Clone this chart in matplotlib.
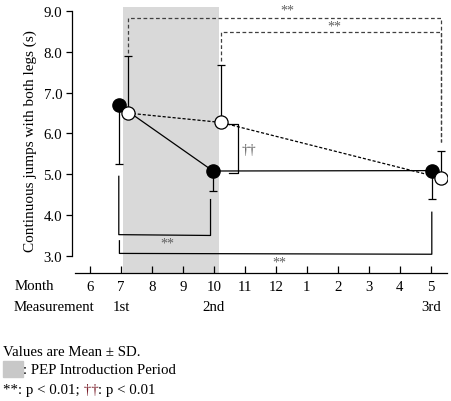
import numpy as np
import matplotlib.pyplot as plt
from matplotlib.patches import Rectangle
from matplotlib.transforms import blended_transform_factory

plt.rcParams['font.family'] = ['Liberation Serif', 'DejaVu Serif']
plt.rcParams['font.size'] = 10.7

# data
months = ['6', '7', '8', '9', '10', '11', '12', '1', '2', '3', '4', '5']
meas_idx = [1, 4, 11]
meas_labels = ['1st', '2nd', '3rd']
filled_mean = [6.70, 5.08, 5.09]
filled_sd = [1.45, 0.49, 0.70]
open_mean = [6.50, 6.27, 4.91]
open_sd = [1.39, 1.41, 0.67]

xm = np.array(meas_idx, dtype=float)
xf = xm + np.array([-0.07, -0.03, 0.05])
xo = xm + np.array([0.22, 0.23, 0.33])

fig = plt.figure(figsize=(4.51, 4.02), dpi=100)
ax = fig.add_axes([72/451, 1-274/402, 375/451, 266/402])
ax.set_xlim(-0.58, 11.52)
ax.set_ylim(2.58, 9.1)

# PEP period
ax.axvspan(1.05, 4.16, color='#d9d9d9', zorder=0, lw=0)

# series
ax.plot(xf, filled_mean, '-', color='black', lw=0.9, zorder=3)
ax.plot(xo, open_mean, '--', color='black', lw=0.9, dashes=(2.5, 1.5), zorder=3)
ax.errorbar(xf, filled_mean, yerr=[filled_sd, np.zeros(3)], fmt='none',
            ecolor='black', elinewidth=0.9, capsize=3, capthick=0.9, zorder=2)
ax.errorbar(xo, open_mean, yerr=[np.zeros(3), open_sd], fmt='none',
            ecolor='black', elinewidth=0.9, capsize=3, capthick=0.9, zorder=2)
ax.plot(xf, filled_mean, 'o', ms=9.5, mfc='black', mec='black', zorder=4)
ax.plot(xo, open_mean, 'o', ms=9.5, mfc='white', mec='black', mew=0.9, zorder=5)

star_c = '#606060'
dash = (3, 2)
# dashed brackets (open circles)
ax.plot([xo[0], xo[0], xo[2], xo[2]], [7.98, 8.83, 8.83, 5.8], '--',
        color='#404040', lw=0.9, dashes=dash, zorder=3)
ax.text((xo[0] + xo[2]) / 2 + 0.1, 9.03, '**', color=star_c, ha='center',
        va='center', fontsize=10, clip_on=False)
ax.plot([xo[1], xo[1], xo[2], xo[2]], [7.78, 8.48, 8.48, 5.8], '--',
        color='#404040', lw=0.9, dashes=dash, zorder=3)
ax.text(7.9, 8.63, '**', color=star_c, ha='center', va='center', fontsize=10)

# group comparison at 2nd
ax.plot([xo[1], xo[1] + 0.55, xo[1] + 0.55, xo[1] + 0.25],
        [6.23, 6.23, 5.03, 5.03], '-', color='black', lw=0.9, zorder=3)
ax.text(xo[1] + 0.9, 5.6, '\u2020\u2020', color=star_c, ha='center',
        va='center', fontsize=10.5)

# solid brackets (filled circles)
ax.plot([xf[0], xf[0], xf[1] - 0.08, xf[1] - 0.08], [4.95, 3.52, 3.5, 4.38],
        '-', color='black', lw=0.9, zorder=3)
ax.text(2.5, 3.32, '**', color=star_c, ha='center', va='center', fontsize=10)
ax.plot([xf[0] + 0.02, xf[0] + 0.02, xf[2] - 0.02, xf[2] - 0.02],
        [3.37, 3.06, 3.04, 4.07], '-', color='black', lw=0.9, zorder=3)
ax.text(6.1, 2.86, '**', color=star_c, ha='center', va='center', fontsize=10)

# axes styling
for s in ['top', 'right']:
    ax.spines[s].set_visible(False)
ax.spines['left'].set_bounds(3, 9)
ax.spines['bottom'].set_bounds(-0.48, 11.52)
ax.spines['left'].set_linewidth(0.9)
ax.spines['bottom'].set_linewidth(0.9)
ax.set_yticks(np.arange(3, 9.5, 1.0))
ax.set_yticklabels(['%.1f' % v for v in np.arange(3, 9.5, 1.0)])
ax.set_xticks(range(len(months)))
ax.set_xticklabels(months)
ax.tick_params(axis='y', direction='out', length=4, width=0.9, pad=3)
ax.tick_params(axis='x', direction='in', length=5, width=0.9, pad=5)
ax.set_ylabel('Continuous jumps with both legs (s)', labelpad=5, fontsize=11)

fig.text(15/451, 1-287/402, 'Month', va='center', ha='left')
fig.text(14/451, 1-308/402, 'Measurement', va='center', ha='left')
tr = blended_transform_factory(ax.transData, fig.transFigure)
for i, lab in zip(meas_idx, meas_labels):
    ax.text(i, 1-308/402, lab, transform=tr, ha='center', va='center')

# notes
fig.text(3/451, 1-353/402, 'Values are Mean \u00b1 SD.', va='center')
fig.patches.append(Rectangle((3/451, 1-378/402), 20/451, 16/402,
                             transform=fig.transFigure, color='#c8c8c8'))
fig.text(23/451, 1-371/402, ': PEP Introduction Period', va='center')
t1 = fig.text(3/451, 1-394/402, '**: p < 0.01;', va='baseline')
t2 = fig.text(0, 0, ' \u2020\u2020', color='#7a1f2b', va='baseline')
t3 = fig.text(0, 0, ': p < 0.01', va='baseline')
fig.canvas.draw()
r = fig.canvas.get_renderer()
bb1 = t1.get_window_extent(r)
t1y = t1.get_position()[1]
t2.set_position((bb1.x1 / fig.bbox.width, t1y))
bb2 = t2.get_window_extent(r)
t3.set_position((bb2.x1 / fig.bbox.width, t1y))

fig.savefig('out.png', dpi=100)
